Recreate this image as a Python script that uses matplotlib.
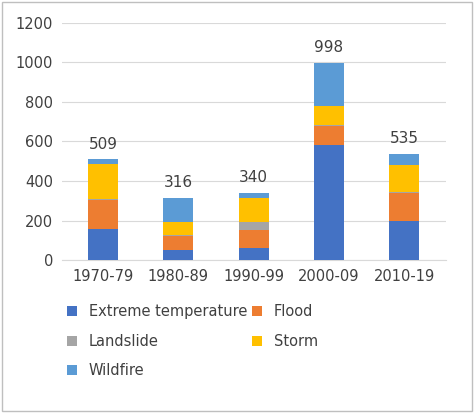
import matplotlib.pyplot as plt
import numpy as np

decades = ['1970-79', '1980-89', '1990-99', '2000-09', '2010-19']
extreme_temp = [160, 53, 60, 583, 198]
flood = [144, 70, 95, 94, 144]
landslide = [3, 2, 40, 7, 3]
storm = [180, 68, 120, 95, 137]
wildfire = [22, 123, 25, 219, 53]
totals = [509, 316, 340, 998, 535]

series = [('Extreme temperature', extreme_temp, '#4472c4'),
          ('Flood', flood, '#ed7d31'),
          ('Landslide', landslide, '#a5a5a5'),
          ('Storm', storm, '#ffc000'),
          ('Wildfire', wildfire, '#5b9bd5')]

fig = plt.figure(figsize=(4.74, 4.13), dpi=100)
ax = fig.add_axes([0.13, 0.37, 0.81, 0.575])
x = np.arange(len(decades))
bottom = np.zeros(len(decades))
handles = []
for name, vals, col in series:
    h = ax.bar(x, vals, 0.4, bottom=bottom, color=col, label=name, zorder=3)
    handles.append(h)
    bottom += np.array(vals)
for xi, t in zip(x, totals):
    ax.text(xi, t + 40, str(t), ha='center', va='bottom', fontsize=11, color='#404040')

ax.set_ylim(0, 1200)
ax.set_yticks(range(0, 1201, 200))
ax.set_xticks(x)
ax.set_xticklabels(decades)
ax.set_xlim(-0.55, 4.55)
ax.grid(axis='y', color='#d9d9d9', zorder=0)
for s in ['top', 'right', 'left']:
    ax.spines[s].set_visible(False)
ax.spines['bottom'].set_color('#d9d9d9')
ax.tick_params(length=0, labelsize=10.5, colors='#404040', pad=6)

# row-major legend order
order = [0, 2, 4, 1, 3]
ax.legend([handles[i] for i in order], [series[i][0] for i in order],
          loc='upper left', bbox_to_anchor=(-0.02, -0.13), ncol=2, frameon=False,
          fontsize=10.5, labelcolor='#404040', handlelength=0.7, handleheight=0.7,
          columnspacing=0.3, labelspacing=1.0)

fig.patches.append(plt.Rectangle((0.005, 0.005), 0.99, 0.99, transform=fig.transFigure,
                                 fill=False, edgecolor='#bfbfbf', linewidth=1))
fig.savefig('out.png', dpi=100)
